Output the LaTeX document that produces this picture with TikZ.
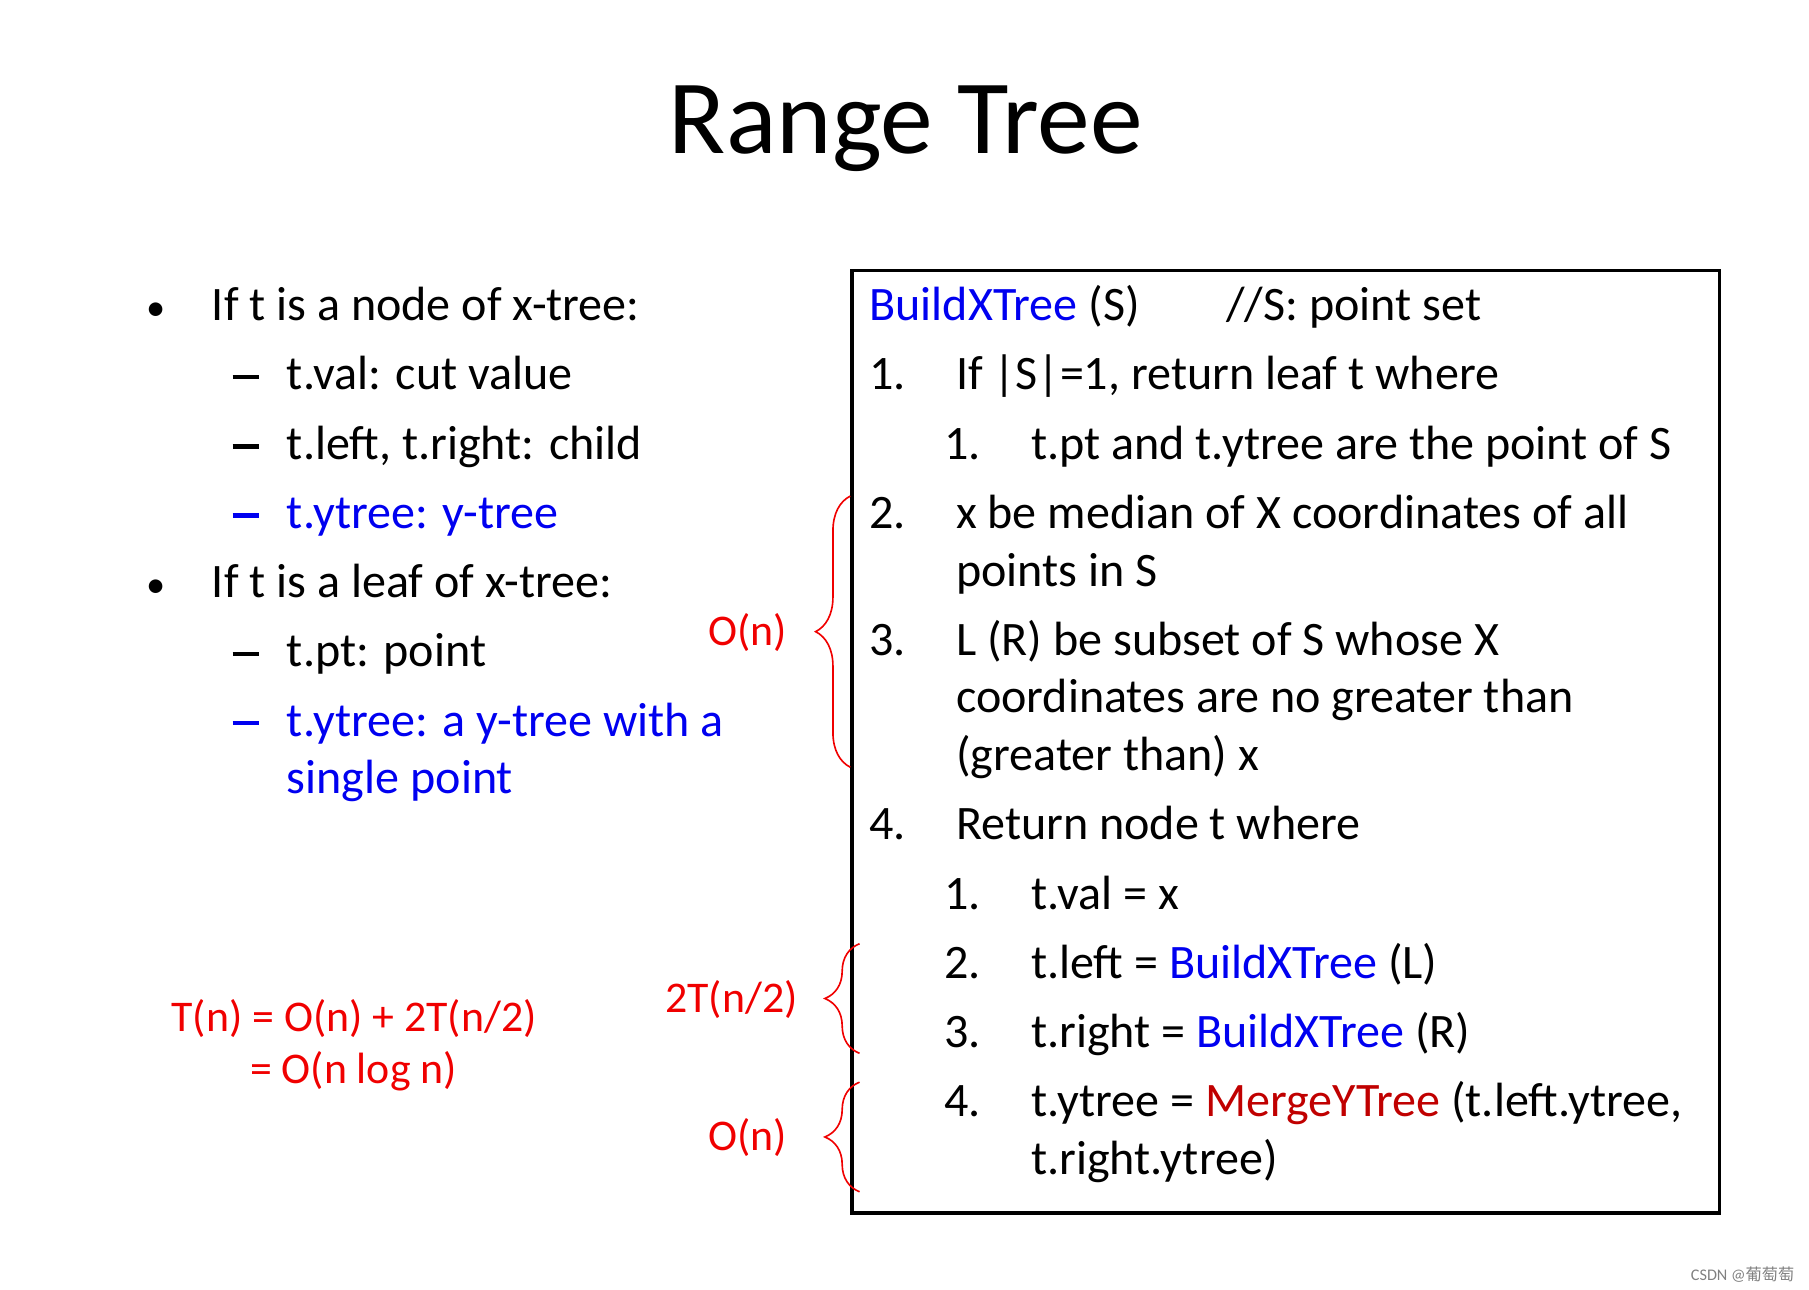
\documentclass[tikz,border=0pt]{standalone}
\usepackage{fontspec}
\setmainfont{Carlito}
\newfontfamily\cjk{Noto Sans CJK SC}
\usetikzlibrary{decorations.pathreplacing}
\definecolor{bl}{RGB}{0,0,240}
\definecolor{rd}{RGB}{240,0,0}
\definecolor{drd}{RGB}{192,0,0}
\begin{document}
\begin{tikzpicture}[x=0.01cm,y=-0.01cm,
  t/.style={anchor=base west,inner sep=0,font=\fontsize{11.85pt}{13pt}\selectfont},
  rt/.style={anchor=base west,inner sep=0,text=rd,font=\fontsize{10.8pt}{12pt}\selectfont},
  br/.style={draw=rd,decorate,decoration={brace,amplitude=0.3cm}}]
\useasboundingbox (0,0) rectangle (1568,1118);
\node[anchor=center,inner sep=0,font=\fontsize{26pt}{30pt}\selectfont] (title) at (785,112) {Range Tree};
% left
\foreach \y/\n in {278/b1,518/b2}{\node[t] (\n) at (126,\y) {\scalebox{0.8}{\textbullet}};}
\node[t] (l1) at (183,278) {If t is a node of x-tree:};
\node[t] (l2) at (248,338) {t.val: cut value};
\node[t] (l3) at (248,398) {t.left, t.right: child};
\node[t,bl] (l4) at (248,458) {t.ytree: y-tree};
\node[t] (l5) at (183,518) {If t is a leaf of x-tree:};
\node[t] (l6) at (248,578) {t.pt: point};
\node[t,bl] (l7) at (248,638) {t.ytree: a y-tree with a};
\node[t,bl] (l8) at (248,688) {single point};
\foreach \y/\n/\c in {338/d1/black,398/d2/black,458/d3/bl,578/d4/black,638/d5/bl}{\node[t,\c] (\n) at (201,\y) {\rule[0.22em]{0.23cm}{0.09em}};}
\node[rt] (rec1) at (148,894) {T(n) = O(n) + 2T(n/2)};
\node[rt] (rec2) at (216,939) {= O(n log n)};
% box
\node[draw,thick,minimum width=752*0.01cm,minimum height=817*0.01cm,anchor=north west,inner sep=0] (box) at (737,233) {};
\node[t] (r0) at (753,278) {\textcolor{bl}{BuildXTree} (S)\hspace{1.8em}//S: point set};
\foreach \y/\n/\num in {338/n1/1.,458/n2/2.,568/n3/3.,728/n4/4.}{\node[t] (\n) at (753,\y) {\num};}
\foreach \y/\n/\num in {398/s1/1.,788/s2/1.,848/s3/2.,908/s4/3.,968/s5/4.}{\node[t] (\n) at (818,\y) {\num};}
\node[t] (r1) at (828,338) {If |S|=1, return leaf t where};
\node[t] (r2) at (893,398) {t.pt and t.ytree are the point of S};
\node[t] (r3) at (828,458) {x be median of X coordinates of all};
\node[t] (r4) at (828,508) {points in S};
\node[t] (r5) at (828,568) {L (R) be subset of S whose X};
\node[t] (r6) at (828,618) {coordinates are no greater than};
\node[t] (r7) at (828,668) {(greater than) x};
\node[t] (r8) at (828,728) {Return node t where};
\node[t] (r9) at (893,788) {t.val = x};
\node[t] (r10) at (893,848) {t.left = \textcolor{bl}{BuildXTree} (L)};
\node[t] (r11) at (893,908) {t.right = \textcolor{bl}{BuildXTree} (R)};
\node[t] (r12) at (893,968) {t.ytree = \textcolor{drd}{MergeYTree} (t.left.ytree,};
\node[t] (r13) at (893,1018) {t.right.ytree)};
% braces
\coordinate (a1) at (737,665); \coordinate (a2) at (737,430);
\coordinate (c1) at (745,913); \coordinate (c2) at (745,818);
\coordinate (e1) at (745,1033); \coordinate (e2) at (745,938);
\draw[br] (a1) -- (a2);
\draw[br] (c1) -- (c2);
\draw[br] (e1) -- (e2);
\node[rt,anchor=center] (o1) at (648,548) {O(n)};
\node[rt,anchor=center] (o2) at (634,866) {2T(n/2)};
\node[rt,anchor=center] (o3) at (648,986) {O(n)};
\node[anchor=east,inner sep=0,text=gray,font=\fontsize{4pt}{5pt}\selectfont] (wm) at (1556,1105) {CSDN @\cjk 葡萄萄};
\end{tikzpicture}
\end{document}
